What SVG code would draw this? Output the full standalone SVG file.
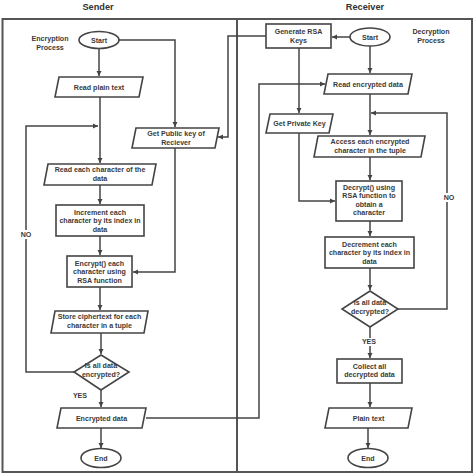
<svg xmlns="http://www.w3.org/2000/svg" width="474" height="474" viewBox="0 0 474 474">
<defs>
<marker id="ah" markerWidth="6" markerHeight="6" refX="5" refY="3" orient="auto" markerUnits="userSpaceOnUse">
<path d="M0,0.5 L5,3 L0,5.5 Z" fill="#444"/>
</marker>
<style>
.s{fill:#fff;stroke:#444;stroke-width:1.6}
.c{fill:none;stroke:#444;stroke-width:1.5;marker-end:url(#ah)}
.n{fill:none;stroke:#444;stroke-width:1.5}
text{font-family:"Liberation Sans",Arial,sans-serif;font-weight:bold;font-size:7.1px;fill:#3a3a3a;text-anchor:middle}
.t{font-size:9.2px;fill:#333}
.lb{fill:#fff;stroke:none}
</style>
</defs>
<rect width="474" height="474" fill="#fff"/>
<g id="frame">
<rect x="2.5" y="19" width="469.5" height="453" fill="none" stroke="#555" stroke-width="2"/>
<line x1="237" y1="19" x2="237" y2="472" stroke="#555" stroke-width="2"/>
<text class="t" x="98" y="10">Sender</text>
<text class="t" x="365" y="10">Receiver</text>
<text x="50" y="41">Encryption</text>
<text x="50" y="50">Process</text>
<text x="431" y="34">Decryption</text>
<text x="431" y="43">Process</text>
</g>
<g id="connectors">
<path class="c" d="M99,48.5 V76"/>
<path class="c" d="M100,97 V163"/>
<path class="c" d="M100,185 V204"/>
<path class="c" d="M100,236 V255"/>
<path class="c" d="M100,287 V310"/>
<path class="c" d="M101,333 V354"/>
<path class="c" d="M101,390 V407"/>
<path class="c" d="M101,428 V448"/>
<path class="c" d="M119,40 H175 V127"/>
<path class="c" d="M175,148 V272 H133"/>
<path class="c" d="M266,36 H228 V137 H218"/>
<path class="c" d="M74,372 H26 V126 H98"/>
<path class="c" d="M146,418 H259 V84 H325"/>
<path class="c" d="M350,37 H332"/>
<path class="c" d="M370,46 V73"/>
<path class="c" d="M299,48 V113"/>
<path class="c" d="M370,94 V135"/>
<path class="c" d="M370,157 V180"/>
<path class="c" d="M299,133 V201 H335"/>
<path class="c" d="M370,221 V236"/>
<path class="c" d="M370,268 V290"/>
<path class="c" d="M398,309 H447 V113 H371"/>
<path class="c" d="M370,327 V358"/>
<path class="c" d="M370,383 V407"/>
<path class="c" d="M368,428 V448"/>
<rect class="lb" x="19" y="230" width="14" height="9"/>
<text x="26" y="237">NO</text>
<rect class="lb" x="442" y="193" width="14" height="9"/>
<text x="449" y="200">NO</text>
<rect class="lb" x="361" y="338" width="17" height="8"/>
<text x="369" y="344">YES</text>
<text x="80" y="398">YES</text>
</g>
<g id="start1"><ellipse class="s" cx="99" cy="40" rx="20" ry="8.5"/><text x="99" y="42.5">Start</text></g>
<g id="readplain"><polygon class="s" points="59,77 143,77 139,97 55,97"/><text x="99" y="89.5">Read plain text</text></g>
<g id="pubkey"><polygon class="s" points="136,128 219,128 215,148 132,148"/><text x="176" y="136">Get Public key of</text><text x="176" y="144.5">Reciever</text></g>
<g id="readeach"><polygon class="s" points="48,164 156,164 152,185 44,185"/><text x="100" y="172">Read each character of the</text><text x="100" y="180.5">data</text></g>
<g id="increment"><rect class="s" x="56" y="205" width="88" height="31"/><text x="100" y="214.5">Increment each</text><text x="100" y="223">character by its index in</text><text x="100" y="231.5">data</text></g>
<g id="encrypt"><rect class="s" x="67" y="256" width="65" height="31"/><text x="99.5" y="265.5">Encrypt() each</text><text x="99.5" y="274">character using</text><text x="99.5" y="282.5">RSA function</text></g>
<g id="store"><polygon class="s" points="55,311 148,311 144,333 51,333"/><text x="99.5" y="318.5">Store ciphertext for each</text><text x="99.5" y="327.5">character in a tuple</text></g>
<g id="decision1"><polygon class="s" points="101,355 129,372 101,390 74,372"/><text x="101" y="368">Is all data</text><text x="101" y="377">encrypted?</text></g>
<g id="encdata"><polygon class="s" points="61,408 146,408 142,428 57,428"/><text x="101.5" y="420.5">Encrypted data</text></g>
<g id="end1"><ellipse class="s" cx="101" cy="458" rx="20" ry="9.5"/><text x="101" y="460.5">End</text></g>
<g id="genrsa"><rect class="s" x="266" y="24" width="65" height="24"/><text x="298.5" y="34">Generate RSA</text><text x="298.5" y="42.5">Keys</text></g>
<g id="start2"><ellipse class="s" cx="370" cy="37" rx="20" ry="9"/><text x="370" y="39.5">Start</text></g>
<g id="readenc"><polygon class="s" points="328,74 412,74 408,94 324,94"/><text x="368" y="86.5">Read encrypted data</text></g>
<g id="privkey"><polygon class="s" points="270,114 333,114 329,133 266,133"/><text x="299.5" y="126">Get Private Key</text></g>
<g id="access"><polygon class="s" points="318,136 425,136 421,157 314,157"/><text x="370" y="143.5">Access each encrypted</text><text x="370" y="152.5">character in the tuple</text></g>
<g id="decrypt"><rect class="s" x="336" y="181" width="66" height="40"/><text x="369" y="189.5">Decrypt() using</text><text x="369" y="198">RSA function to</text><text x="369" y="206.5">obtain a</text><text x="369" y="215">character</text></g>
<g id="decrement"><rect class="s" x="325" y="237" width="89" height="31"/><text x="369.5" y="246.5">Decrement each</text><text x="369.5" y="255">character by its index in</text><text x="369.5" y="263.5">data</text></g>
<g id="decision2"><polygon class="s" points="370,291 398,309 370,327 342,309"/><text x="370" y="305">Is all data</text><text x="370" y="314">decrypted?</text></g>
<g id="collect"><rect class="s" x="337" y="359" width="65" height="24"/><text x="369.5" y="368.5">Collect all</text><text x="369.5" y="377">decrypted data</text></g>
<g id="plaintext"><polygon class="s" points="329,408 412,408 408,428 325,428"/><text x="368.5" y="420.5">Plain text</text></g>
<g id="end2"><ellipse class="s" cx="368" cy="458" rx="20" ry="9.5"/><text x="368" y="460.5">End</text></g>
</svg>
